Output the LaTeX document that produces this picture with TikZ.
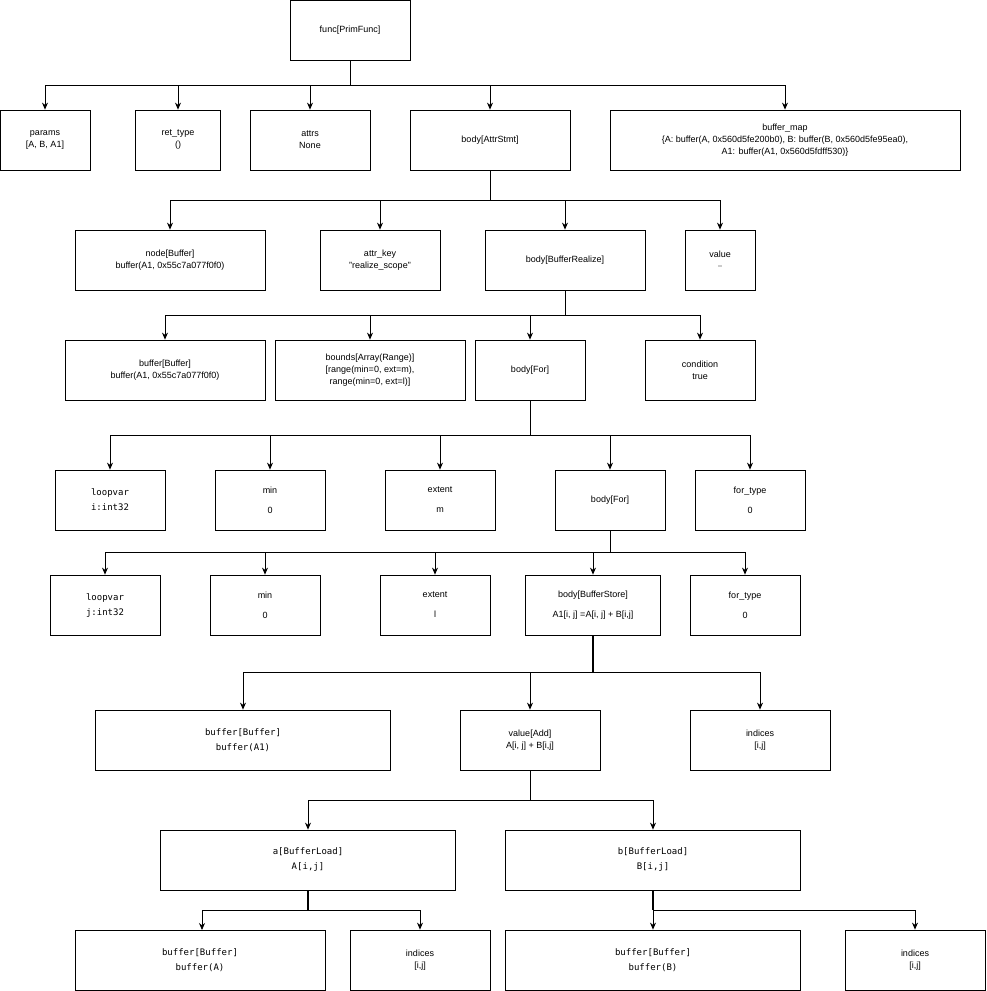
\documentclass[tikz,border=0pt]{standalone}
\usepackage{fontspec}
\setmainfont{Liberation Sans}
\newfontfamily\mono{DejaVu Sans Mono}
\usetikzlibrary{arrows.meta}
\tikzset{
 box/.style={draw,line width=0.8pt,align=center,font=\fontsize{9}{12}\selectfont,inner sep=2pt},
 mbox/.style={box,font=\mono\fontsize{9}{15}\selectfont},
 ar/.style={-{Stealth[length=7pt,width=6pt]},line width=0.8pt},
 ln/.style={line width=0.8pt}
}
\newcommand\bx[7][box]{\node[#1,minimum width=#5pt,minimum height=#6pt] (#2) at (#3,#4) {#7};}
\begin{document}
\begin{tikzpicture}[x=1pt,y=-1pt]
\useasboundingbox[fill=white] (0,0) rectangle (986,991);
\bx{func}{350}{30}{120}{60}{func[PrimFunc]}
% row1
\bx{params}{45}{140}{90}{60}{params\\{}[A, B, A1]}
\bx{ret}{178}{140}{85}{60}{ret\_type\\()}
\bx{attrs}{310}{140}{120}{60}{attrs\\None}
\bx{body1}{490}{140}{160}{60}{body[AttrStmt]}
\bx{bmap}{785}{140}{350}{60}{buffer\_map\\\{A: buffer(A, 0x560d5fe200b0), B: buffer(B, 0x560d5fe95ea0),\\A1: buffer(A1, 0x560d5fdff530)\}}
% row2
\bx{node}{170}{260}{190}{60}{node[Buffer]\\buffer(A1, 0x55c7a077f0f0)}
\bx{akey}{380}{260}{120}{60}{attr\_key\\"realize\_scope"}
\bx{body2}{565}{260}{160}{60}{body[BufferRealize]}
\bx{value}{720}{260}{70}{60}{value\\{\fontsize{5}{6}\selectfont ""}}
% row3
\bx{buf3}{165}{370}{200}{60}{buffer[Buffer]\\buffer(A1, 0x55c7a077f0f0)}
\bx{bounds}{370}{370}{190}{60}{bounds[Array(Range)]\\{}[range(min=0, ext=m),\\range(min=0, ext=l)]}
\bx{body3}{530}{370}{110}{60}{body[For]}
\bx{cond}{700}{370}{110}{60}{condition\\true}
% row4
\bx[mbox]{lv4}{110}{500}{110}{60}{loopvar\\i:int32}
\bx[box,font=\fontsize{9}{20}\selectfont]{min4}{270}{500}{110}{60}{min\\0}
\bx[box,font=\fontsize{9}{20}\selectfont]{ext4}{440}{500}{110}{60}{extent\\m}
\bx{body4}{610}{500}{110}{60}{body[For]}
\bx[box,font=\fontsize{9}{20}\selectfont]{ft4}{750}{500}{110}{60}{for\_type\\0}
% row5
\bx[mbox]{lv5}{105}{605}{110}{60}{loopvar\\j:int32}
\bx[box,font=\fontsize{9}{20}\selectfont]{min5}{265}{605}{110}{60}{min\\0}
\bx[box,font=\fontsize{9}{20}\selectfont]{ext5}{435}{605}{110}{60}{extent\\l}
\bx[box,font=\fontsize{9}{20}\selectfont]{store}{593}{605}{135}{60}{body[BufferStore]\\A1[i, j] =A[i, j] + B[i,j]}
\bx[box,font=\fontsize{9}{20}\selectfont]{ft5}{745}{605}{110}{60}{for\_type\\0}
% row6
\bx[mbox]{buf6}{243}{740}{295}{60}{buffer[Buffer]\\buffer(A1)}
\bx{add}{530}{740}{140}{60}{value[Add]\\A[i, j] + B[i,j]}
\bx{ind6}{760}{740}{140}{60}{indices\\{}[i,j]}
% row7
\bx[mbox]{la}{308}{860}{295}{60}{a[BufferLoad]\\A[i,j]}
\bx[mbox]{lb}{653}{860}{295}{60}{b[BufferLoad]\\B[i,j]}
% row8
\bx[mbox]{bA}{200}{960}{250}{60}{buffer[Buffer]\\buffer(A)}
\bx{iA}{420}{960}{140}{60}{indices\\{}[i,j]}
\bx[mbox]{bB}{653}{960}{295}{60}{buffer[Buffer]\\buffer(B)}
\bx{iB}{915}{960}{140}{60}{indices\\{}[i,j]}
% connectors
\draw[ln] (func.south) -- (350,85); \draw[ln] (45,85) -- (785,85);
\foreach \n in {params,ret,attrs,body1,bmap} \draw[ar] (\n.north |- 0,85) -- (\n.north);
\draw[ln] (body1.south) -- (490,200); \draw[ln] (170,200) -- (720,200);
\foreach \n in {node,akey,body2,value} \draw[ar] (\n.north |- 0,200) -- (\n.north);
\draw[ln] (body2.south) -- (565,315); \draw[ln] (165,315) -- (700,315);
\foreach \n in {buf3,bounds,body3,cond} \draw[ar] (\n.north |- 0,315) -- (\n.north);
\draw[ln] (body3.south) -- (530,435); \draw[ln] (110,435) -- (750,435);
\foreach \n in {lv4,min4,ext4,body4,ft4} \draw[ar] (\n.north |- 0,435) -- (\n.north);
\draw[ln] (body4.south) -- (610,552) -- (593,552); \draw[ln] (105,552) -- (745,552);
\foreach \n in {lv5,min5,ext5,store,ft5} \draw[ar] (\n.north |- 0,552) -- (\n.north);
\draw[line width=1.6pt] (store.south) -- (593,672); \draw[ln] (243,672) -- (760,672);
\foreach \n in {buf6,add,ind6} \draw[ar] (\n.north |- 0,672) -- (\n.north);
\draw[ln] (add.south) -- (530,800); \draw[ln] (308,800) -- (653,800);
\foreach \n in {la,lb} \draw[ar] (\n.north |- 0,800) -- (\n.north);
\draw[line width=1.2pt] (la.south) -- (308,910); \draw[ln] (202,910) -- (420,910);
\draw[ar] (202,910) -- (202,930); \draw[ar] (iA.north |- 0,910) -- (iA.north);
\draw[line width=1.2pt] (lb.south) -- (653,910); \draw[ln] (653,910) -- (915,910);
\draw[ar] (bB.north |- 0,910) -- (bB.north); \draw[ar] (iB.north |- 0,910) -- (iB.north);
\end{tikzpicture}
\end{document}
